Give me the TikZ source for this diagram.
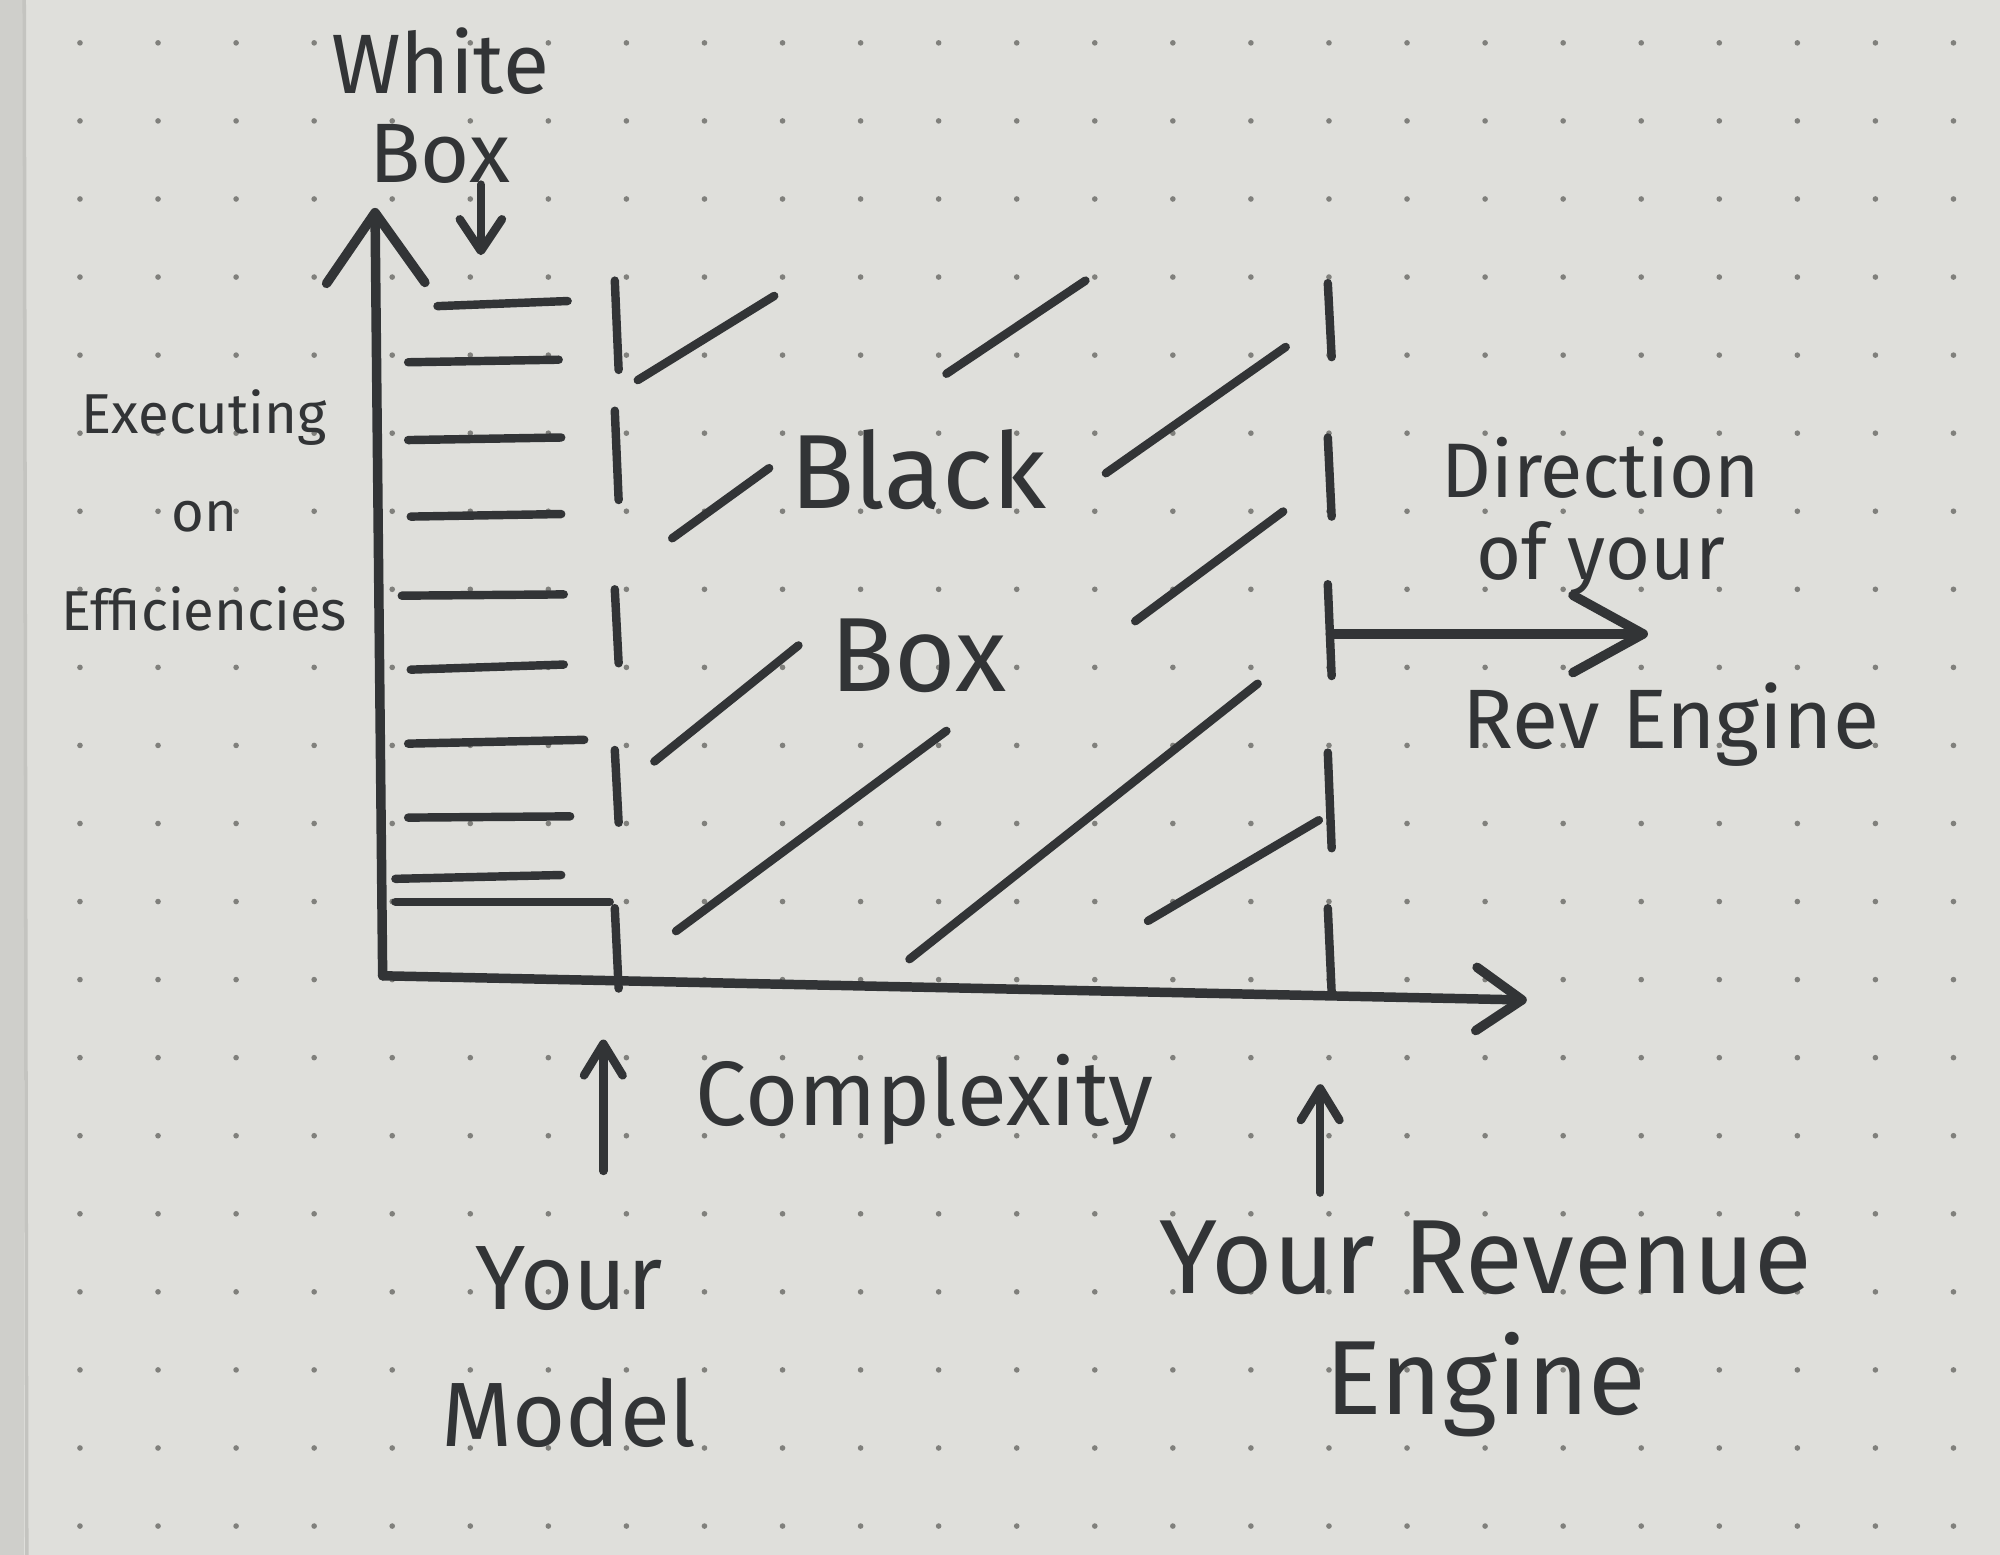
\documentclass[tikz,border=0pt]{standalone}
\usepackage{fontspec}
\setmainfont{Fira Sans}
\usepackage{xcolor}
\usepackage{tikz}
\usetikzlibrary{arrows.meta,positioning}
\definecolor{paper}{RGB}{223,223,219}
\definecolor{pageedge}{RGB}{196,196,192}
\definecolor{ink}{RGB}{50,52,54}
\definecolor{dotgray}{RGB}{128,128,124}

\begin{document}
\begin{tikzpicture}[
		x=0.012755cm, y=-0.012755cm,
		pen/.style={draw=ink, line width=2.4pt, line cap=round, line join=round},
		axisline/.style={pen, line width=2.7pt},
		barb/.style 2 args={-{Straight Barb[round, length=#1, width=#2]}},
		hand/.style={text=ink, inner sep=0pt, align=center}
	]
	\useasboundingbox (0,0) rectangle (1568,1219);
	\fill[paper] (0,0) rectangle (1568,1219);
	\fill[pageedge!60!paper] (0,0) rectangle (19,1219);
	\draw[pageedge, line width=1pt] (19,0) -- (21,1219);

	\foreach \i in {0,...,24}
	\foreach \j in {0,...,19}
	\fill[dotgray] (62.7+61.2*\i, 33.6+61.2*\j) circle[radius=0.8pt];

	% axes
	\coordinate (O) at (300,765);
	\coordinate (ytop) at (294,163);
	\coordinate (xend) at (1197,784);
	\draw[axisline, barb={20pt}{28pt}] (O) -- (ytop);
	\draw[axisline, barb={13pt}{18pt}] (O) -- (xend);

	% white box
	\foreach \a/\b/\c/\d in {343/240/445/236, 320/284/438/282, 320/345/440/343,
			322/405/440/403, 315/467/442/466, 322/525/442/521, 320/583/458/580,
			320/641/447/640, 310/689/440/686, 310/707/478/707}
	\draw[pen] (\a,\b) -- (\c,\d);

	% model and revenue engine borders
	\foreach \y/\z in {220/290, 322/392, 462/520, 588/645, 712/775}
	\draw[pen] (482,\y) -- (485,\z);
	\foreach \y/\z in {222/280, 343/405, 458/530, 590/665, 712/778}
	\draw[pen] (1041,\y) -- (1044,\z);

	% black box
	\foreach \a/\b/\c/\d in {500/298/607/232, 527/422/603/367, 513/597/626/506,
			530/730/742/573, 742/293/851/220, 867/371/1008/272, 890/487/1006/401,
			713/752/986/536, 900/722/1034/643}
	\draw[pen] (\a,\b) -- (\c,\d);

	\node[hand, font=\fontsize{24}{25.4}\selectfont] (whitebox) at (345,83) {White\\Box};
	\coordinate (wbtip) at (377,200);
	\draw[pen, barb={9pt}{12pt}] (wbtip |- whitebox.south) -- (wbtip);

	\node[hand, font=\fontsize{16}{28}\selectfont] (exec) at (160,400) {Executing\\on\\Efficiencies};
	\node[hand, font=\fontsize{30}{52}\selectfont] (blackbox) at (720,440) {Black\\Box};

	\coordinate (dirtail) at (1043,497);
	\coordinate (dirhead) at (1292,497);
	\draw[axisline, barb={20pt}{22pt}] (dirtail) -- (dirhead);
	\node[hand, font=\fontsize{22}{23.6}\selectfont] (direction) at (1255,405) {Direction\\of your};
	\node[hand, font=\fontsize{24}{26}\selectfont] (reveng) at (1310,568) {Rev Engine};

	\node[hand, font=\fontsize{26}{28}\selectfont] (complexity) at (725,862) {Complexity};

	\node[hand, font=\fontsize{26}{39}\selectfont] (yourmodel) at (446,1056) {Your\\Model};
	\coordinate (modelfoot) at (473,918);
	\coordinate (modeltip) at (473,815);
	\draw[pen, barb={9pt}{11pt}] (modelfoot) -- (modeltip);

	\node[hand, font=\fontsize{30}{34.5}\selectfont] (yourrev) at (1165,1042) {Your Revenue\\Engine};
	\coordinate (revfoot) at (1035,935);
	\coordinate (revtip) at (1035,850);
	\draw[pen, barb={9pt}{11pt}] (revfoot) -- (revtip);
\end{tikzpicture}
\end{document}
